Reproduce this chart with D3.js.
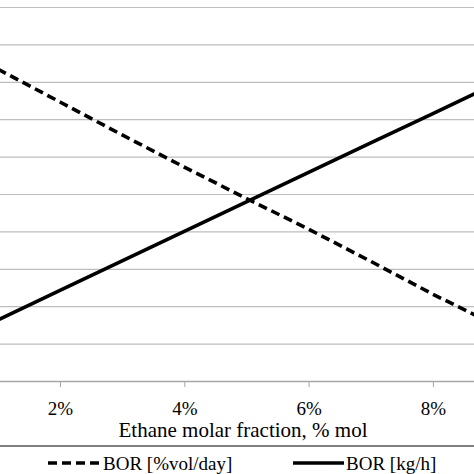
<!DOCTYPE html>
<html lang="en">
<head>
    <meta charset="UTF-8">
    <title>BOR vs ethane</title>
    <script src="https://d3js.org/d3.v7.min.js"></script>
    <style>
        body {
          margin: 0;
          background: #ffffff;
        }
        svg {
          display: block;
        }
        svg text {
          font-family: "Times New Roman", "Liberation Serif", Times, serif;
        }
        .gridlines line {
          stroke: #bdbdbd;
          stroke-width: 1.2;
        }
        .gridlines path {
          display: none;
        }
    </style>
</head>
<body>
<svg id="chart" width="474" height="474"></svg>
<script>
    // ethane molar fraction, %
    const ethane = [1, 2, 3, 4, 5, 6, 7, 8, 9];
    // values (in gridline units, left scale is cropped away)
    const borVolDay = [8.34, 7.46, 6.58, 5.72, 4.88, 4.06, 3.20, 2.32, 1.50];
    const borKgH = [1.63, 2.42, 3.21, 4.00, 4.79, 5.58, 6.37, 7.15, 7.94];
    const xTicks = [2, 4, 6, 8];
    const seriesNames = ["BOR [%vol/day]", "BOR [kg/h]"];

    const serif = "'Times New Roman', 'Liberation Serif', Times, serif";
    const svg = d3.select("svg#chart");

    const xScale = d3.scaleLinear().domain([0, 10]).range([-64.3, 557.2]);
    const yScale = d3.scaleLinear().domain([0, 10]).range([381, 7]);

    // horizontal gridlines
    let gridlines = d3.axisLeft(yScale)
        .tickValues(d3.range(1, 11))
        .tickSize(-(xScale.range()[1] - xScale.range()[0]))
        .tickFormat("");
    svg.append("g")
        .attr("class", "gridlines")
        .attr("transform", "translate(" + xScale.range()[0] + ",0)")
        .call(gridlines);

    // x axis
    let bottomAxis = d3.axisBottom(xScale)
        .tickValues(xTicks)
        .tickSizeInner(6)
        .tickSizeOuter(0)
        .tickPadding(15)
        .tickFormat(d => d + "%");
    let xAxis = svg.append("g")
        .attr("class", "x axis")
        .attr("transform", "translate(0," + yScale(0) + ")")
        .call(bottomAxis)
        .attr("font-family", serif);
    xAxis.select("path").attr("stroke", "#a6a6a6").attr("stroke-width", 1.5);
    xAxis.selectAll("line").attr("stroke", "#a6a6a6");
    xAxis.selectAll("text")
        .style("font-family", serif)
        .attr("font-size", 19)
        .attr("fill", "#000");

    svg.append("text")
        .attr("x", 243)
        .attr("y", 437)
        .attr("text-anchor", "middle")
        .style("font-family", serif)
        .attr("font-size", 21)
        .text("Ethane molar fraction, % mol");

    // border line above the legend
    svg.append("line")
        .attr("x1", 0).attr("x2", 474)
        .attr("y1", 446).attr("y2", 446)
        .attr("stroke", "#7f7f7f")
        .attr("stroke-width", 2);

    const line = d3.line()
        .x((d, i) => xScale(ethane[i]))
        .y(d => yScale(d));

    svg.append("path")
        .datum(borVolDay)
        .attr("d", line)
        .attr("fill", "none")
        .attr("stroke", "#000")
        .attr("stroke-width", 3.6)
        .attr("stroke-dasharray", "9,5");

    svg.append("path")
        .datum(borKgH)
        .attr("d", line)
        .attr("fill", "none")
        .attr("stroke", "#000")
        .attr("stroke-width", 3.6);

    // legend
    let legend = svg.append("g").attr("id", "legend");
    legend.append("line")
        .attr("x1", 48).attr("x2", 101)
        .attr("y1", 463).attr("y2", 463)
        .attr("stroke", "#000")
        .attr("stroke-width", 3.6)
        .attr("stroke-dasharray", "9,5");
    legend.append("text")
        .attr("x", 103).attr("y", 470)
        .style("font-family", serif)
        .attr("font-size", 19)
        .text(seriesNames[0]);
    legend.append("line")
        .attr("x1", 293).attr("x2", 344)
        .attr("y1", 463).attr("y2", 463)
        .attr("stroke", "#000")
        .attr("stroke-width", 3.6);
    legend.append("text")
        .attr("x", 346).attr("y", 470)
        .style("font-family", serif)
        .attr("font-size", 19)
        .text(seriesNames[1]);
</script>
</body>
</html>
